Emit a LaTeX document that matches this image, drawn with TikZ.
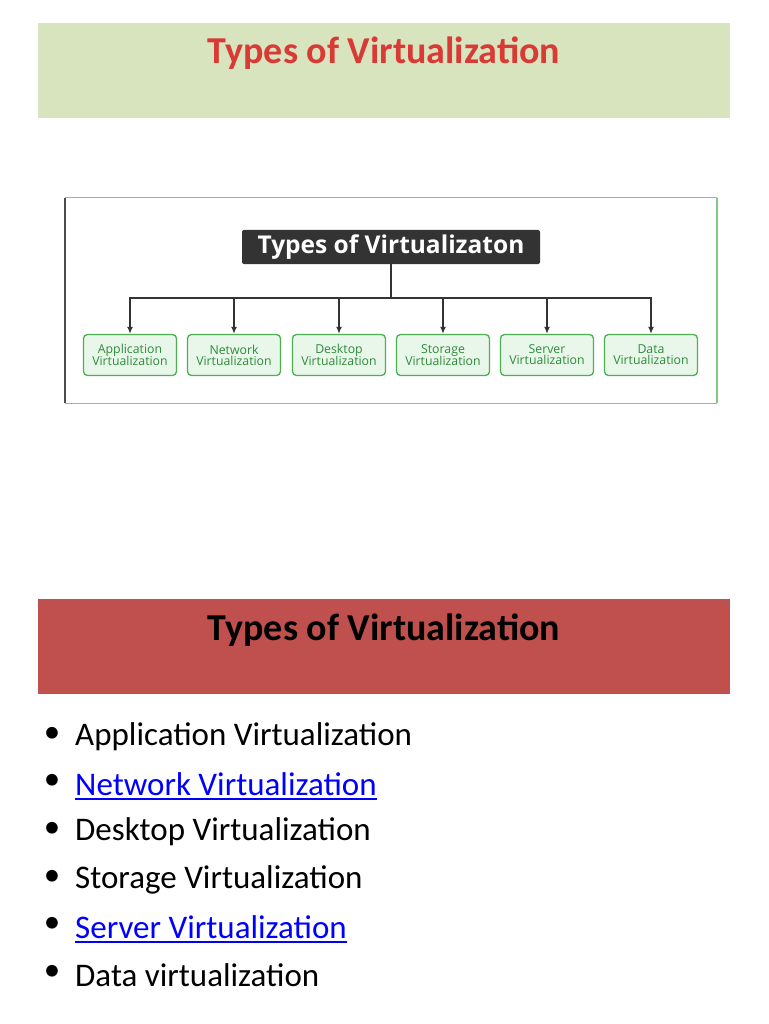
\documentclass[tikz,border=0pt]{standalone}
\usepackage{fontspec}
\usetikzlibrary{arrows.meta}
\setmainfont{Carlito}
\newfontfamily\diag{Open Sans}
\definecolor{hdrA}{HTML}{D7E4BD}
\definecolor{ttlred}{HTML}{D93A35}
\definecolor{hdrB}{HTML}{C0504D}
\definecolor{gfill}{HTML}{E9F6EA}
\definecolor{gline}{HTML}{4CAF50}
\definecolor{gtext}{HTML}{2E8B3A}
\definecolor{linkblue}{HTML}{0000FF}
\begin{document}
\begin{tikzpicture}[x=1pt,y=-1pt,
  leaf/.style={draw=gline,fill=gfill,line width=1.3pt,rounded corners=4pt,minimum width=93pt,minimum height=41pt,align=center,font=\diag\fontsize{12.3}{12}\selectfont,text=gtext,inner sep=1pt},
  arr/.style={-{Latex[length=7pt,width=6pt]},line width=2.6pt,draw=black!80},
  bullettext/.style={anchor=west,font=\fontsize{33}{36}\selectfont}]
\useasboundingbox (0,0) rectangle (768,1024);
\fill[white] (0,0) rectangle (768,1024);
\node[fill=hdrA,minimum width=692pt,minimum height=95pt,anchor=north west,inner sep=0] (h1) at (38,23) {};
\node[text=ttlred,font=\bfseries\fontsize{38}{40}\selectfont] (t1) at (384,53) {Types of Virtualization};
% image frame
\draw[gline!70,line width=1pt] (65,198) -- (717,198) (65,403) -- (717,403);
\draw[black!70,line width=1.5pt] (65,198) -- (65,403);
\draw[gline!70,line width=1.5pt] (717,198) -- (717,403);
\node[fill=black!80,rounded corners=2pt,minimum width=298pt,minimum height=34pt,text=white,font=\diag\bfseries\fontsize{24.5}{26}\selectfont,inner sep=0] (root) at (391,247) {Types of Virtualizaton};
\coordinate (j) at (391,298);
\foreach \n/\x/\a/\b in {a/130/Application/Virtualization,b/234/Network/Virtualization,c/339/Desktop/Virtualization,d/443/Storage/Virtualization,e/547/Server/Virtualization,f/651/Data/Virtualization}{
  \node[leaf] (\n) at (\x,355) {\a\\[-1pt]\b};
  \coordinate (\n t) at (\x,298);
}
\draw[line width=2.6pt,draw=black!80] (root.south) -- (j);
\draw[line width=2.6pt,draw=black!80,line cap=rect] (at) -- (ft);
\foreach \n in {a,b,c,d,e,f}{\draw[arr] (\n t) -- (\n.north);}
\node[fill=hdrB,minimum width=692pt,minimum height=95pt,anchor=north west,inner sep=0] (h2) at (38,599) {};
\node[text=black,font=\bfseries\fontsize{38}{40}\selectfont] (t2) at (384,630) {Types of Virtualization};
\foreach \y/\t/\c/\u [count=\i] in {737/Application Virtualization/black/0,784/Network Virtualization/linkblue/1,832/Desktop Virtualization/black/0,880/Storage Virtualization/black/0,927/Server Virtualization/linkblue/1,975/Data virtualization/black/0}{
  \node[font=\fontsize{33}{36}\selectfont,anchor=center] (bu\i) at (52,\y-2) {•};
  \node[bullettext,text=\c,inner sep=0] (bt\i) at (75,\y) {\t};
  \ifnum\u=1 \draw[linkblue,line width=1.8pt] ([yshift=-4pt]bt\i.base west) -- ([yshift=-4pt]bt\i.base east);\fi
}
\end{tikzpicture}
\end{document}
